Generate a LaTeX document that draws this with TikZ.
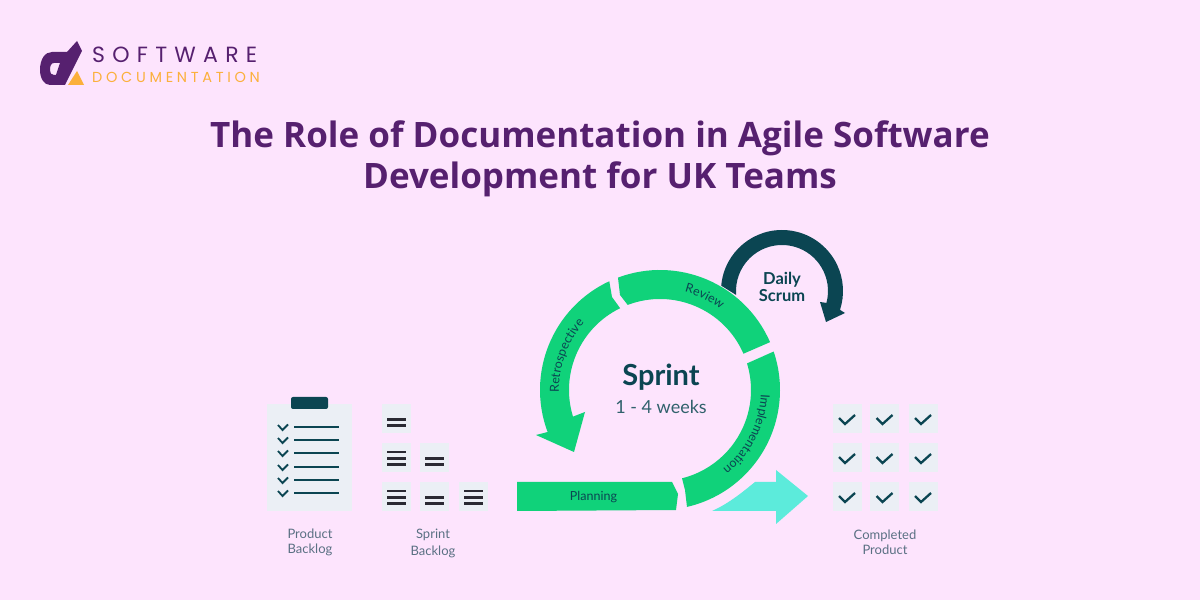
\documentclass[tikz,border=0pt]{standalone}
\usepackage{fontspec}
\setmainfont{Lato}
\newfontfamily\titlefont{Open Sans}
\newfontfamily\logofont[LetterSpace=33]{Poppins}
\newfontfamily\logosubfont[LetterSpace=25.5]{Poppins}
\usetikzlibrary{decorations.text}
\definecolor{pagepink}{HTML}{FDE4FD}
\definecolor{brandpurple}{HTML}{56206F}
\definecolor{brandorange}{HTML}{FBB03B}
\definecolor{sprintgreen}{HTML}{10D27A}
\definecolor{arrowteal}{HTML}{5CEBDB}
\definecolor{scrumdark}{HTML}{0B4552}
\definecolor{tilegrey}{HTML}{EBEFF5}
\definecolor{barblack}{HTML}{2A2A33}
\definecolor{captiongrey}{HTML}{5A7083}
\newcommand{\arcfont}{\color{scrumdark}\fontsize{12.5}{14}\selectfont}
\tikzset{
  captiontext/.style={text=captiongrey,font=\fontsize{13}{15}\selectfont,align=center},
  tiletext/.style={text=scrumdark,align=center},
  tilebox/.style={fill=tilegrey,minimum size=29pt,inner sep=0pt},
  barline/.style={barblack,line width=2.1pt},
  tickline/.style={scrumdark,line width=2.3pt},
  rowline/.style={scrumdark,line width=1.4pt}
}
\begin{document}
\begin{tikzpicture}[x=1pt,y=1pt]
\useasboundingbox (0,0) rectangle (1200,600);
\fill[pagepink] (0,0) rectangle (1200,600);

%LOGO
\fill[brandpurple,even odd rule] (77,559)--(82,549)--(65,515)--(50,515) .. controls (44,515) and (40,522) .. (40,530) .. controls (40,541) and (45,548) .. (52,548)--(67,548)--cycle
  (60,537)--(56,525)--(54,525) .. controls (51,525) and (50,527) .. (50,530) .. controls (50,534) and (51,537) .. (54,537)--cycle;
\fill[brandorange] (68,515)--(77,529)--(84,515)--cycle;
\node[text=brandpurple,font=\logofont\fontsize{22}{24}\selectfont,anchor=west,inner sep=0pt] (logotop) at (92,545) {SOFTWARE};
\node[text=brandorange,font=\logosubfont\fontsize{14.5}{17}\selectfont,anchor=west,inner sep=0pt] (logosub) at (92,523) {DOCUMENTATION};

%TITLE
\node[text=brandpurple,font=\titlefont\bfseries\fontsize{35}{41}\selectfont,align=center] (title) at (600,441) {The Role of Documentation in Agile Software\\Development for UK Teams};

%PRODUCT BACKLOG
\node[fill=tilegrey,minimum width=85pt,minimum height=107pt,inner sep=0pt] (paper) at (309.5,142.5) {};
\fill[scrumdark,rounded corners=2pt] (291,191) -- (291,203) -- (328,203) -- (328,191) -- cycle;
\foreach \ry in {173,160,147,133,120,107}{
  \draw[rowline] (294,\ry)--(339,\ry);
  \draw[tickline,line width=1.8pt] (278,\ry+2)--(282.5,\ry-3)--(288,\ry+2.5);
}
\node[captiontext] (productcap) at (310,57.5) {Product\\Backlog};

%SPRINT BACKLOG
\node[tilebox] (sb1) at (396.5,181.5) {};
\node[tilebox] (sb2) at (396.5,142.5) {};
\node[tilebox] (sb3) at (434.5,142.5) {};
\node[tilebox] (sb4) at (396.5,103.5) {};
\node[tilebox] (sb5) at (434.5,103.5) {};
\node[tilebox] (sb6) at (473.5,103.5) {};
\foreach \tile in {sb1,sb3,sb5}{
  \draw[barline] ([shift={(-9.5,-1)}]\tile.center)--++(19,0);
  \draw[barline] ([shift={(-9.5,-7)}]\tile.center)--++(19,0);
}
\foreach \tile in {sb2,sb4,sb6}{
  \draw[barline] ([shift={(-9.5,5.5)}]\tile.center)--++(19,0);
  \draw[barline] ([shift={(-9.5,-1)}]\tile.center)--++(19,0);
  \draw[barline] ([shift={(-9.5,-7)}]\tile.center)--++(19,0);
}
\node[captiontext] (sprintcap) at (433,57) {Sprint\\[2pt]Backlog};

%DAILY SCRUM
\pgfmathsetmacro{\dx}{782}
\pgfmathsetmacro{\dy}{309}
\fill[scrumdark] ([shift={(\dx,\dy)}]175:61) arc[start angle=175,end angle=-18,radius=61pt]
  --(845,287)--(826,278)--(820,298)--([shift={(\dx,\dy)}]-15:46) arc[start angle=-15,end angle=185,radius=46pt]--cycle;
\node[tiletext,font=\bfseries\fontsize{16.5}{17}\selectfont] (dailyscrum) at (782,313.5) {Daily\\Scrum};

%SPRINT CIRCLE
\pgfmathsetmacro{\cx}{660}
\pgfmathsetmacro{\cy}{210}
\pgfmathsetmacro{\ro}{120}
\pgfmathsetmacro{\ri}{91}
\pgfmathsetmacro{\rt}{101}
% review
\fill[sprintgreen] ([shift={(\cx,\cy)}]110.5:\ro) arc[start angle=110.5,end angle=23.5,radius=\ro pt]
  --([shift={(\cx,\cy)}]23.5:\ri) arc[start angle=23.5,end angle=110.8,radius=\ri pt]--(620,305)--cycle;
% implementation
\fill[sprintgreen] ([shift={(\cx,\cy)}]18.7:\ro) arc[start angle=18.7,end angle=-77,radius=\ro pt]
  --(685,110)--([shift={(\cx,\cy)}]-76:\ri) arc[start angle=-76,end angle=17,radius=\ri pt]--cycle;
% retrospective
\fill[sprintgreen] ([shift={(\cx,\cy)}]115:\ro) arc[start angle=115,end angle=200.5,radius=\ro pt]
  --(536,165)--(574,148)--(585,188)--([shift={(\cx,\cy)}]197:\ri) arc[start angle=197,end angle=116,radius=\ri pt]--(612,303)--cycle;
% planning
\fill[sprintgreen] (517,118)--(672,118)--(678,106)--(676,90)--(517,89)--cycle;
% teal arrow
\fill[arrowteal] (712,89) .. controls (730,97) and (745,110) .. (755,118)--(776,118)--(776,130)--(808,104)--(776,76)--(776,89)--cycle;
\path[decorate,decoration={text along path,text align=center,text={|\arcfont|Review}}]
  ([shift={(\cx,\cy)}]94.5:\rt) arc[start angle=94.5,end angle=34.5,radius=\rt pt];
\path[decorate,decoration={text along path,text align=center,text={|\arcfont|Retrospective}}]
  ([shift={(\cx,\cy)}]200:\rt) arc[start angle=200,end angle=120,radius=\rt pt];
\path[decorate,decoration={text along path,text align=center,text={|\arcfont|Implementation}}]
  ([shift={(\cx,\cy)}]18:\rt) arc[start angle=18,end angle=-72,radius=\rt pt];
\node[tiletext,font=\fontsize{12.5}{14}\selectfont] (planning) at (593.5,103) {Planning};
\node[tiletext,font=\bfseries\fontsize{29}{32}\selectfont] (sprint) at (661,223) {Sprint};
\node[tiletext,font=\fontsize{18}{20}\selectfont,text=scrumdark!85] (weeks) at (661,193) {1 - 4 weeks};

%COMPLETED PRODUCT
\foreach \tx in {847,884.5,923}{
  \foreach \ty in {181,142,103}{
    \node[tilebox] (done) at (\tx,\ty) {};
    \draw[tickline] ([shift={(-8,1)}]done.center)--([shift={(-2,-5)}]done.center)--([shift={(8,4)}]done.center);
  }
}
\node[captiontext] (donecap) at (885,57.5) {Completed\\Product};
\end{tikzpicture}
\end{document}
